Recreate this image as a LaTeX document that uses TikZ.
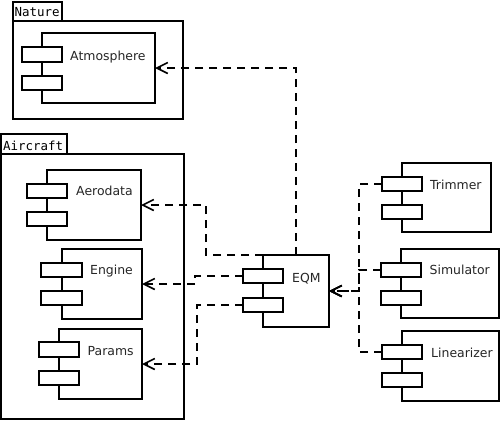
\documentclass[tikz,border=0pt]{standalone}
\usepackage{fontspec}
\setmainfont{DejaVu Sans}
\newfontfamily\tabfont{DejaVu Sans Mono}
\usetikzlibrary{fit,arrows.meta}
\tikzset{
  ln/.style={line width=2bp},
  box/.style={ln, draw, fill=white, inner sep=0pt, outer sep=0pt},
  lbl/.style={inner sep=0pt, font=\fontsize{12.5}{15}\selectfont, text=black!85},
  tablbl/.style={inner sep=0pt, font=\tabfont\fontsize{12.5}{15}\selectfont},
  dep/.style={ln, dash pattern=on 8bp off 6bp, -{Straight Barb[length=11bp,width=11bp,line width=1.6bp]}},
}
\begin{document}
\begin{tikzpicture}[x=1bp,y=-1bp]
\useasboundingbox (0,0) rectangle (504,423);
% packages
\node[box, fit={(13,21) (183,119)}] (nature) {};
\node[box, fit={(13,2) (62,21)}] (natureTab) {};
\node[tablbl, anchor=base west] (natureL) at (14.5,16.5) {Nature};
\node[box, fit={(1,154) (184,419)}] (aircraft) {};
\node[box, fit={(1,134) (67,154)}] (aircraftTab) {};
\node[tablbl, anchor=base west] (aircraftL) at (3,150) {Aircraft};
% components
\node[box, fit={(42,33) (155,103)}] (atm) {};
\node[box, fit={(22,47) (62,62)}] (atmA) {};
\node[box, fit={(22,76) (62,90)}] (atmB) {};
\node[lbl, anchor=base west] (atmL) at (70,60) {Atmosphere};

\node[box, fit={(47,170) (141,240)}] (aero) {};
\node[box, fit={(27,184) (67,198)}] (aeroA) {};
\node[box, fit={(27,212) (67,226)}] (aeroB) {};
\node[lbl, anchor=base west] (aeroL) at (76,195) {Aerodata};

\node[box, fit={(62,249) (142,319)}] (eng) {};
\node[box, fit={(41,263) (82,277)}] (engA) {};
\node[box, fit={(41,291) (82,305)}] (engB) {};
\node[lbl, anchor=base west] (engL) at (90,274) {Engine};

\node[box, fit={(59,329) (142,399)}] (par) {};
\node[box, fit={(39,342) (79,357)}] (parA) {};
\node[box, fit={(39,371) (79,385)}] (parB) {};
\node[lbl, anchor=base west] (parL) at (87.5,355) {Params};

\node[box, fit={(263,255) (329,327)}] (eqm) {};
\node[box, fit={(243,269) (283,283)}] (eqmA) {};
\node[box, fit={(243,298) (283,312)}] (eqmB) {};
\node[lbl, anchor=base west] (eqmL) at (292,282) {EQM};

\node[box, fit={(402,163) (491,232)}] (trim) {};
\node[box, fit={(382,177) (422,191)}] (trimA) {};
\node[box, fit={(382,205) (422,219)}] (trimB) {};
\node[lbl, anchor=base west] (trimL) at (430,189) {Trimmer};

\node[box, fit={(401,249) (499,318)}] (sim) {};
\node[box, fit={(381,263) (421,277)}] (simA) {};
\node[box, fit={(381,291) (421,305)}] (simB) {};
\node[lbl, anchor=base west] (simL) at (429.5,274.5) {Simulator};

\node[box, fit={(402,331) (499,401)}] (lin) {};
\node[box, fit={(382,345) (422,359)}] (linA) {};
\node[box, fit={(382,373) (422,387)}] (linB) {};
\node[lbl, anchor=base west] (linL) at (431,357.5) {Linearizer};

% connectors
\coordinate (bus) at (359,291);
\draw[dep] (eqm.north) |- (atm.east);
\draw[dep] (eqm.north west) -- ++(-57,0) |- (aero.east);
\draw[dep] (eqmA.west) -- ++(-48,0) |- (eng.east);
\draw[dep] (eqmB.west) -- ++(-46,0) |- (par.east);
\draw[dep] (trimA.west) -| (bus) -- (eqm.east);
\draw[dep] (simA.west) -| (bus) -- (eqm.east);
\draw[dep] (linA.west) -| (bus) -- (eqm.east);
\end{tikzpicture}
\end{document}
